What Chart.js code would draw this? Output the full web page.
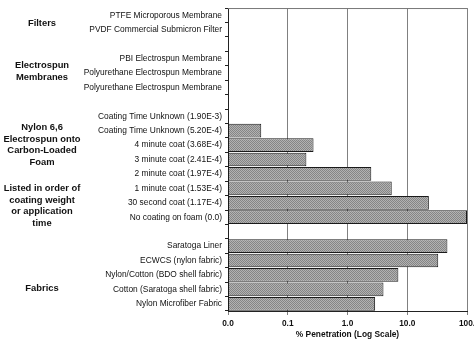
<!DOCTYPE html>
<html>
<head>
<meta charset="utf-8">
<script src="https://cdn.jsdelivr.net/npm/chart.js@4.4.1/dist/chart.umd.min.js"></script>
<style>
  html, body { margin: 0; padding: 0; background: #fff; }
  #wrap { width: 474px; height: 345px; }
</style>
</head>
<body>
<div id="wrap"><canvas id="myChart" width="474" height="345"></canvas></div>
<script>
// rows from top to bottom, blank strings are spacer rows
const materials = [
  "PTFE Microporous Membrane",
  "PVDF Commercial Submicron Filter",
  "",
  "PBI Electrospun Membrane",
  "Polyurethane Electrospun Membrane",
  "Polyurethane Electrospun Membrane",
  "",
  "Coating Time Unknown (1.90E-3)",
  "Coating Time Unknown (5.20E-4)",
  "4 minute coat (3.68E-4)",
  "3 minute coat (2.41E-4)",
  "2 minute coat (1.97E-4)",
  "1 minute coat (1.53E-4)",
  "30 second coat (1.17E-4)",
  "No coating on foam (0.0)",
  "",
  "Saratoga Liner",
  "ECWCS (nylon fabric)",
  "Nylon/Cotton (BDO shell fabric)",
  "Cotton (Saratoga shell fabric)",
  "Nylon Microfiber Fabric"
];

// % penetration, null = nothing measurable on the log axis
const penetration = [
  null, null, null,
  null, null, null, null,
  null, 0.036, 0.27, 0.205, 2.5, 5.5, 23, 100,
  null,
  47, 33, 7.1, 4.0, 2.9
];

const tickValues = [0.01, 0.1, 1, 10, 100];
const tickLabels = ["0.0", "0.1", "1.0", "10.0", "100."];

// group captions on the far left, centred on a row position
const groupLines = [
  ["Filters"],
  ["Electrospun", "Membranes"],
  ["Nylon 6,6", "Electrospun onto", "Carbon-Loaded", "Foam"],
  ["Listed in order of", "coating weight", "or application", "time"],
  ["Fabrics"]
];
const groupRows = [0.58, 3.9, 9.0, 13.2, 18.9];

const FONT = "'Liberation Sans', Arial, Helvetica, sans-serif";

// stippled grey fill for the bars
function makeStipple() {
  const c = document.createElement("canvas");
  c.width = 2; c.height = 2;
  const g = c.getContext("2d");
  g.fillStyle = "#b2b2b2";
  g.fillRect(0, 0, 2, 2);
  g.fillStyle = "#858585";
  g.fillRect(0, 0, 1, 1);
  g.fillRect(1, 1, 1, 1);
  return g.createPattern(c, "repeat");
}

const groupCaptions = {
  id: "groupCaptions",
  afterDraw(chart) {
    const ctx = chart.ctx;
    const y = chart.scales.y;
    const area = chart.chartArea;
    ctx.save();
    // frame line along the top of the plot
    ctx.strokeStyle = "#777";
    ctx.lineWidth = 1;
    ctx.beginPath();
    ctx.moveTo(area.left, area.top + 0.5);
    ctx.lineTo(area.right, area.top + 0.5);
    ctx.stroke();

    ctx.fillStyle = "#111";
    ctx.font = "bold 9.4px " + FONT;
    ctx.textAlign = "center";
    ctx.textBaseline = "middle";
    const lh = 11.5;
    groupLines.forEach((lines, i) => {
      const cy = y.getPixelForValue(groupRows[i]);
      const y0 = cy - (lines.length - 1) * lh / 2;
      lines.forEach((t, j) => ctx.fillText(t, 42, y0 + j * lh));
    });
    ctx.restore();
  }
};

const ctx = document.getElementById("myChart").getContext("2d");
const chart = new Chart(ctx, {
  type: "bar",
  data: {
    labels: materials,
    datasets: [{
      data: penetration,
      backgroundColor: makeStipple(),
      borderColor: "#1a1a1a",
      borderWidth: 1,
      borderSkipped: false,
      barPercentage: 0.95,
      categoryPercentage: 1.0
    }]
  },
  options: {
    indexAxis: "y",
    responsive: false,
    animation: false,
    layout: { padding: { top: 5, right: 7, left: 0, bottom: 0 } },
    plugins: {
      legend: { display: false },
      tooltip: { enabled: false }
    },
    scales: {
      x: {
        type: "logarithmic",
        min: 0.01,
        max: 100,
        afterBuildTicks: scale => {
          scale.ticks = tickValues.map(v => ({ value: v }));
        },
        afterFit: scale => {
          scale.height = 34;
          scale.paddingLeft = 0;
          scale.paddingRight = 0;
        },
        ticks: {
          autoSkip: false,
          maxRotation: 0,
          padding: 4,
          color: "#111",
          font: { family: FONT, size: 8.3, weight: "bold" },
          callback: (v) => tickLabels[tickValues.indexOf(v)]
        },
        grid: { color: "#808080", lineWidth: 1, tickLength: 4 },
        border: { color: "#222" },
        title: {
          display: true,
          text: "% Penetration (Log Scale)",
          color: "#111",
          padding: { top: 0, bottom: 5 },
          font: { family: FONT, size: 8.4, weight: "bold" }
        }
      },
      y: {
        afterFit: scale => { scale.width = 228; },
        ticks: {
          autoSkip: false,
          padding: 3,
          color: "#111",
          font: { family: FONT, size: 8.4 }
        },
        grid: { drawOnChartArea: false, color: "#222", tickLength: 3 },
        border: { color: "#222" }
      }
    }
  },
  plugins: [groupCaptions]
});
</script>
</body>
</html>
